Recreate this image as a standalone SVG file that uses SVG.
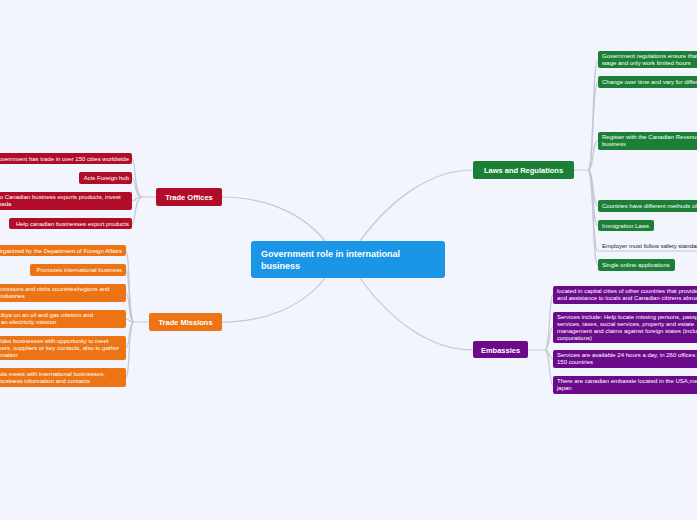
<svg xmlns="http://www.w3.org/2000/svg" width="697" height="520" viewBox="0 0 697 520">
<style>
text{font-family:"Liberation Sans",Arial,sans-serif;fill:#fff}
.c{font-size:6px}
.m{font-size:7.5px;font-weight:bold}
.red{fill:#b10d28}.org{fill:#ec7414}.grn{fill:#1b7f35}.pur{fill:#6b0a8b}
#connectors path{fill:none;stroke:#c3c8d2;stroke-width:1.2}
</style>
<rect width="697" height="520" fill="#f2f5fd"/>
<g id="connectors">
<path d="M325 241 C300 210 260 197 222 197"/>
<path d="M360 241 C390 200 430 170 473 170"/>
<path d="M325 278 C300 310 260 322 222 322"/>
<path d="M360 278 C390 320 430 350 473 350"/>
<path d="M156 197 H142 C134 197 136 158 132 158"/>
<path d="M142 197 C134 197 136 178 132 178"/>
<path d="M142 197 C134 197 136 201 132 201"/>
<path d="M142 197 C134 197 136 224 132 224"/>
<path d="M149 322 H134 C128 322 130 251 126 251"/>
<path d="M134 322 C128 322 130 270 126 270"/>
<path d="M134 322 C128 322 130 293 126 293"/>
<path d="M134 322 C128 322 130 319 126 319"/>
<path d="M134 322 C128 322 130 348 126 348"/>
<path d="M134 322 C128 322 130 377 126 377"/>
<path d="M574 170 H588 C594 170 592 60 598 60"/>
<path d="M588 170 C594 170 592 82 598 82"/>
<path d="M588 170 C594 170 592 141 598 141"/>
<path d="M588 170 C594 170 592 206 598 206"/>
<path d="M588 170 C594 170 592 226 598 226"/>
<path d="M588 170 C594 170 592 251 598 251 H697"/>
<path d="M588 170 C594 170 592 265 598 265"/>
<path d="M528 350 H545 C550 350 549 295 553 295"/>
<path d="M545 350 C550 350 549 327 553 327"/>
<path d="M545 350 C550 350 549 359 553 359"/>
<path d="M545 350 C550 350 549 385 553 385"/>
</g>
<g id="central"><rect x="251" y="241" width="194" height="37" rx="3" fill="#1b95e6"/>
<text x="261" y="257" style="font-size:9px;font-weight:bold">Government role in international</text>
<text x="261" y="269" style="font-size:9px;font-weight:bold">business</text></g>

<g id="trade-offices"><rect class="red" x="156" y="188" width="66" height="18" rx="2"/><text class="m" x="189" y="200" text-anchor="middle">Trade Offices</text></g>
<g id="to1"><rect class="red" x="-10" y="153" width="142" height="11" rx="2"/><text class="c" x="129" y="160.5" text-anchor="end">Government has trade in over 150 cities worldwide</text></g>
<g id="to2"><rect class="red" x="79" y="172" width="53" height="12" rx="2"/><text class="c" x="129" y="180" text-anchor="end">Acts Foreign hub</text></g>
<g id="to3"><rect class="red" x="-10" y="192" width="142" height="18" rx="2"/><text class="c" x="-16" y="199">Help to Canadian business exports products, invest</text><text class="c" x="-16" y="206">in Canada</text></g>
<g id="to4"><rect class="red" x="9" y="218" width="123" height="11" rx="2"/><text class="c" x="129" y="225.5" text-anchor="end">Help canadian businesses export products</text></g>

<g id="trade-missions"><rect class="org" x="149" y="313" width="73" height="18" rx="2"/><text class="m" x="185.5" y="325" text-anchor="middle">Trade Missions</text></g>
<g id="tm1"><rect class="org" x="-10" y="245" width="136" height="11" rx="2"/><text class="c" x="122" y="252.5" text-anchor="end">Organized by the Department of Foreign Affairs</text></g>
<g id="tm2"><rect class="org" x="30" y="264" width="96" height="12" rx="2"/><text class="c" x="122" y="272" text-anchor="end">Promotes international business</text></g>
<g id="tm3"><rect class="org" x="-10" y="284" width="136" height="18" rx="2"/><text class="c" x="-33" y="291">Leads trade missions and visits countries/regions and</text><text class="c" x="-33" y="298">key sectors/industries</text></g>
<g id="tm4"><rect class="org" x="-10" y="310" width="136" height="18" rx="2"/><text class="c" x="-22" y="317">Visited Libya  on an oil and gas mission and</text><text class="c" x="-22" y="324">India on an electricity mission</text></g>
<g id="tm5"><rect class="org" x="-10" y="336" width="136" height="24" rx="2"/><text class="c" x="-12" y="343">Provides businesses with opportunity to meet</text><text class="c" x="-12" y="350">partners, suppliers or key contacts, also to gather</text><text class="c" x="-12" y="357">information</text></g>
<g id="tm6"><rect class="org" x="-10" y="368" width="136" height="19" rx="2"/><text class="c" x="-14" y="376">Canada meets with international businesses,</text><text class="c" x="-14" y="383">gets business information and contacts</text></g>

<g id="laws"><rect class="grn" x="473" y="161" width="101" height="18" rx="2"/><text class="m" x="523.5" y="173" text-anchor="middle">Laws and Regulations</text></g>
<g id="lr1"><rect class="grn" x="598" y="51" width="110" height="17" rx="2"/><text class="c" x="602" y="58">Government regulations ensure that workers get minimum</text><text class="c" x="602" y="65">wage and only work limited hours</text></g>
<g id="lr2"><rect class="grn" x="598" y="76" width="110" height="12" rx="2"/><text class="c" x="602" y="84">Change over time and vary for different countries</text></g>
<g id="lr3"><rect class="grn" x="598" y="132" width="110" height="18" rx="2"/><text class="c" x="602" y="139">Register with the Canadian Revenue Agency to run a</text><text class="c" x="602" y="146">business</text></g>
<g id="lr4"><rect class="grn" x="598" y="200" width="110" height="12" rx="2"/><text class="c" x="602" y="208">Countries have different methods of taxation</text></g>
<g id="lr5"><rect class="grn" x="598" y="220" width="56" height="11" rx="2"/><text class="c" x="602" y="227.5">Immigration Laws</text></g>
<g id="lr6"><text class="c" x="602" y="247.5" style="fill:#222">Employer must follow safety standards</text></g>
<g id="lr7"><rect class="grn" x="598" y="259" width="77" height="12" rx="2"/><text class="c" x="602" y="267">Single online applications</text></g>

<g id="embassies"><rect class="pur" x="473" y="341" width="55" height="17" rx="2"/><text class="m" x="500.5" y="352.5" text-anchor="middle">Embassies</text></g>
<g id="em1"><rect class="pur" x="553" y="286" width="160" height="18" rx="2"/><text class="c" x="557" y="293">located in capital cities of other countries that provide services</text><text class="c" x="557" y="300">and assistance to locals and Canadian citizens abroad</text></g>
<g id="em2"><rect class="pur" x="553" y="312" width="160" height="31" rx="2"/><text class="c" x="557" y="319">Services include: Help locate missing persons, passport</text><text class="c" x="557" y="326">services, taxes, social services, property and estate</text><text class="c" x="557" y="333">management and claims against foreign states (including</text><text class="c" x="557" y="340">corporations)</text></g>
<g id="em3"><rect class="pur" x="553" y="350" width="160" height="18" rx="2"/><text class="c" x="557" y="357">Services are available 24 hours a day, in 260 offices in</text><text class="c" x="557" y="364">150 countries</text></g>
<g id="em4"><rect class="pur" x="553" y="376" width="160" height="18" rx="2"/><text class="c" x="557" y="383">There are canadian embassie located in the USA,mexico,</text><text class="c" x="557" y="390">japan</text></g>
</svg>
